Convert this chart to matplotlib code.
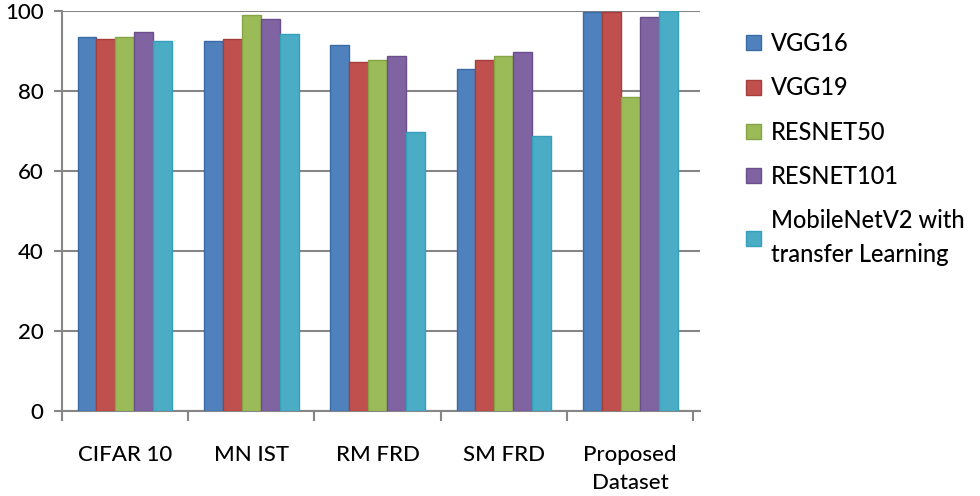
import numpy as np
import matplotlib
matplotlib.use('Agg')
import matplotlib.pyplot as plt

plt.rcParams['font.family'] = ['Lato', 'DejaVu Sans']

categories = ['CIFAR 10', 'MN IST', 'RM FRD', 'SM FRD', 'Proposed\nDataset']
series_names = ['VGG16', 'VGG19', 'RESNET50', 'RESNET101',
                'MobileNetV2 with\ntransfer Learning']
vgg16 = [93.6, 92.5, 91.4, 85.5, 99.8]
vgg19 = [93.1, 93.1, 87.2, 87.7, 99.8]
resnet50 = [93.6, 98.9, 87.7, 88.7, 78.6]
resnet101 = [94.7, 97.9, 88.7, 89.8, 98.5]
mobilenet = [92.5, 94.2, 69.8, 68.7, 100.0]
y_ticks = [0, 20, 40, 60, 80, 100]

colors = ['#4F81BD', '#C0504D', '#9BBB59', '#8064A2', '#4BACC6']
edges = ['#3A6BA5', '#A53D3A', '#84A446', '#6A4F8C', '#35A0BA']

fig = plt.figure(figsize=(9.8, 4.96), dpi=100)
ax = fig.add_axes([0.063, 0.171, 0.651, 0.807])

x = np.arange(len(categories))
w = 0.15
all_series = [vgg16, vgg19, resnet50, resnet101, mobilenet]
for i, vals in enumerate(all_series):
    ax.bar(x + (i - 2) * w, vals, w, color=colors[i], edgecolor=edges[i],
           linewidth=1, label=series_names[i], zorder=3)

ax.set_xlim(-0.5, len(categories) - 0.45)
ax.set_ylim(0, 100)
ax.set_yticks(y_ticks)
ax.set_yticklabels([str(t) for t in y_ticks], fontsize=16, fontweight='medium')
ax.yaxis.grid(True, color='#868686', linewidth=1.5, zorder=0)
ax.set_axisbelow(True)

ax.set_xticks(x)
ax.set_xticklabels(categories, fontsize=16, fontweight='medium', linespacing=1.55)
ax.tick_params(axis='x', length=0, pad=24)
ax.set_xticks(np.arange(len(categories) + 1) - 0.5, minor=True)
ax.tick_params(axis='x', which='minor', length=7, width=1.5, color='#868686')
ax.tick_params(axis='y', length=6, width=1.5, color='#868686', pad=7)

for s in ['top', 'right']:
    ax.spines[s].set_visible(False)
for s in ['left', 'bottom']:
    ax.spines[s].set_color('#868686')
    ax.spines[s].set_linewidth(1.5)

leg = fig.legend(loc='upper left', bbox_to_anchor=(0.74, 0.978), frameon=False,
                 prop={'size': 17, 'weight': 'medium'}, handlelength=0.6,
                 handleheight=0.6, handletextpad=0.45, labelspacing=0.9)
for t in leg.get_texts():
    t.set_linespacing(1.55)

fig.savefig('out.png', dpi=100)
